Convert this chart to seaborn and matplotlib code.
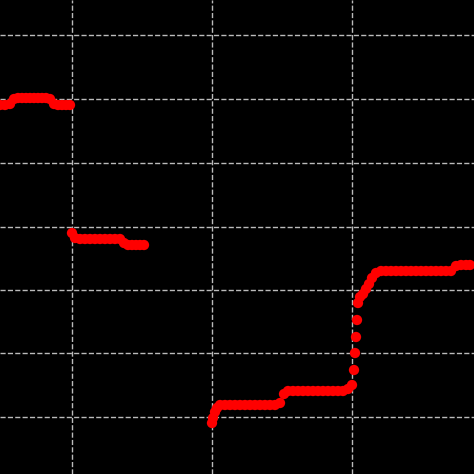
import matplotlib
matplotlib.use("Agg")
import matplotlib.pyplot as plt
import seaborn as sb

# point positions (x right, y up)
seg1_x = [0, 5, 10, 14, 18, 22, 26, 30, 34, 38, 42, 46, 50, 54, 58, 62, 66, 70]
seg1_y = [369, 369, 370, 375, 376, 376, 376, 376, 376, 376, 376, 376, 375, 370, 369, 369, 369, 369]

seg2_x = [72, 75, 80, 85, 90, 95, 100, 105, 110, 115, 120, 124, 128, 132, 136, 140, 144]
seg2_y = [241, 236, 235, 235, 235, 235, 235, 235, 235, 235, 235, 231, 229, 229, 229, 229, 229]

seg3_x = [212, 213, 215, 217, 220, 225, 230, 235, 240, 245, 250, 255, 260, 265, 270, 275, 280,
          284, 288, 293, 298, 303, 308, 313, 318, 323, 328, 333, 338, 343, 348, 352,
          354, 355, 356, 357, 358, 360, 363, 366, 369, 372, 376, 381, 386, 391, 396, 401,
          406, 411, 416, 421, 426, 431, 436, 441, 446, 451, 456, 461, 466, 470]
seg3_y = [51, 56, 62, 66, 69, 69, 69, 69, 69, 69, 69, 69, 69, 69, 69, 69, 71,
          80, 83, 83, 83, 83, 83, 83, 83, 83, 83, 83, 83, 83, 85, 89,
          104, 121, 137, 154, 171, 177, 180, 185, 190, 196, 201, 203, 203, 203, 203, 203,
          203, 203, 203, 203, 203, 203, 203, 203, 203, 203, 208, 209, 209, 209]

xs = seg1_x + seg2_x + seg3_x
ys = seg1_y + seg2_y + seg3_y

fig = plt.figure(figsize=(4.74, 4.74), dpi=100, facecolor="black")
ax = fig.add_axes([0, 0, 1, 1], facecolor="black")

sb.scatterplot(x=xs, y=ys, color="red", s=55, edgecolor="none", ax=ax, zorder=3)

ax.set_xlim(0, 474)
ax.set_ylim(0, 474)
ax.set_xticks([72, 212, 352])
ax.set_yticks([57, 121, 184, 247, 311, 375, 439])
ax.grid(True, color="#bbbbbb", linestyle="--", linewidth=1)
ax.tick_params(length=0, labelbottom=False, labelleft=False)
for sp in ax.spines.values():
    sp.set_visible(False)

plt.savefig("out.png", dpi=100, facecolor="black")
